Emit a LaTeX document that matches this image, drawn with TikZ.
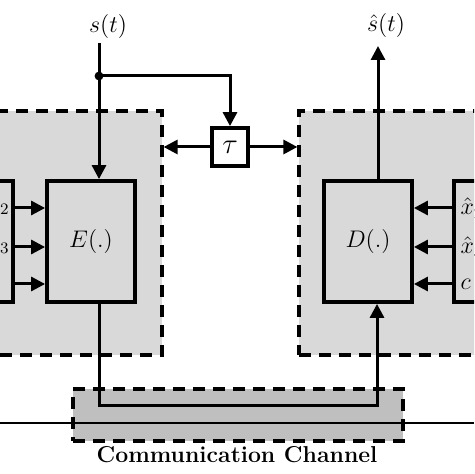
\documentclass[tikz,border=0pt]{standalone}
\usetikzlibrary{arrows.meta, positioning}
\tikzstyle{arrow} = [line width=1.5pt,-{Triangle[length=7pt,width=7pt]}]
\tikzstyle{wire} = [line width=1.5pt]
\tikzstyle{block} = [
rectangle, draw=black, line width=1.9pt, fill=black!15,
minimum width=44pt, minimum height=60.5pt, font=\fontsize{11.5}{13}\selectfont
]
\tikzstyle{delay} = [
rectangle, draw=black, line width=1.9pt, fill=white,
minimum width=18pt, minimum height=19pt, font=\fontsize{14}{16}\selectfont
]
\tikzstyle{region} = [
rectangle, draw=black, dash pattern=on 6pt off 4pt, line width=1.6pt, fill=black!15
]
\tikzstyle{channel} = [
rectangle, draw=black, dash pattern=on 6pt off 4pt, line width=1.6pt, fill=black!25
]
\tikzstyle{signal} = [font=\fontsize{13}{15}\selectfont]

\begin{document}
\begin{tikzpicture}[x=0.5pt, y=-0.5pt]
			\useasboundingbox (0,0) rectangle (474,474);
			\clip (0,0) rectangle (474,474);

			% Areas
			\node (enc_area) [region, minimum width=131pt, minimum height=122pt] at (31,233) {};
			\node (dec_area) [region, minimum width=150.5pt, minimum height=122pt] at (449.5,233) {};
			\node (chan) [channel, minimum width=165pt, minimum height=26pt] at (238,415) {};
			\node (chan_label) at (237,455) {\fontsize{11.5}{13}\selectfont\textbf{Communication Channel}};

			% Blocks
			\node (src) [block, minimum width=40pt] at (-27,241.5) {};
			\node (E) [block] at (91,241.5) {$E(.)$};
			\node (D) [block] at (368,241.5) {$D(.)$};
			\node (sink) [block, minimum width=40pt] at (494,241.5) {};
			\node (tau) [delay] at (230,147) {$\tau$};

			% Signals
			\node (s_in) [signal] at (108,27) {$s(t)$};
			\node (s_out) [signal] at (386,26) {$\hat{s}(t)$};
			\coordinate (top_in) at (99,43);
			\coordinate (split) at (99,76);
			\coordinate (top_out) at (378,46);
			\coordinate (ch_l) at (99,405);
			\coordinate (ch_r) at (377,405);
			\coordinate (line_l) at (0,423);
			\coordinate (line_r) at (474,423);

			% Labels of the side blocks
			\node [anchor=east, inner sep=0pt, font=\fontsize{11.5}{13}\selectfont] at ([xshift=-2.5pt, yshift=16.75pt]src.east) {$x_2$};
			\node [anchor=east, inner sep=0pt, font=\fontsize{11.5}{13}\selectfont] at ([xshift=-2.5pt, yshift=-2.75pt]src.east) {$x_3$};
			\node [anchor=west, inner sep=0pt, font=\fontsize{11.5}{13}\selectfont] at ([xshift=4pt, yshift=16.75pt]sink.west) {$\hat{x}_2$};
			\node [anchor=west, inner sep=0pt, font=\fontsize{11.5}{13}\selectfont] at ([xshift=4pt, yshift=-2.75pt]sink.west) {$\hat{x}_3$};
			\node [anchor=west, inner sep=0pt, font=\fontsize{11.5}{13}\selectfont] at ([xshift=4pt, yshift=-21.25pt]sink.west) {$c$};

			% Connections
			\foreach \dy in {16.75,-2.75,-21.25} {
				\draw [arrow] ([yshift=\dy pt]src.east) -- ([yshift=\dy pt]E.west);
				\draw [arrow] ([yshift=\dy pt]sink.west) -- ([yshift=\dy pt]D.east);
			}
			\draw [wire] (top_in) -- (split);
			\draw [arrow] (split) -- (split |- E.north);
			\fill (split) circle (2.2pt);
			\draw [arrow] (split) -| (tau.north);
			\draw [arrow] (tau.west) -- (tau.west -| enc_area.east);
			\draw [arrow] (tau.east) -- (tau.east -| dec_area.west);
			\draw [arrow] (D.north -| top_out) -- (top_out);

			% Channel
			\draw [arrow] (E.south -| ch_l) -- (ch_l) -- (ch_r) -- (D.south -| ch_r);
			\draw [line width=1pt] (line_l) -- (line_r);

		\end{tikzpicture}
\end{document}
